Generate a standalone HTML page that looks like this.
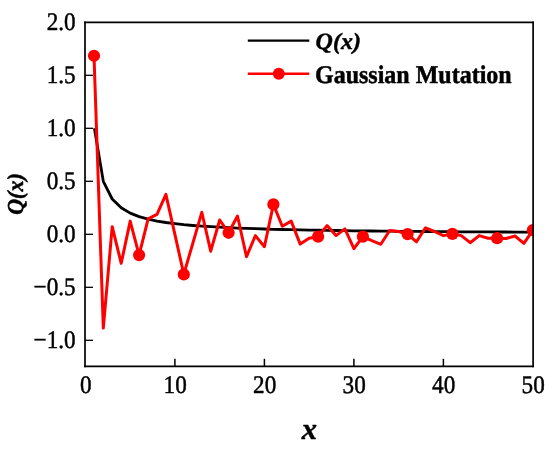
<!DOCTYPE html>
<html><head><meta charset="utf-8"><style>
html,body{margin:0;padding:0;background:#fff;}
body{width:550px;height:450px;overflow:hidden;}
svg{display:block;}
text{font-family:"Liberation Serif","Times New Roman",serif;fill:#000;text-rendering:geometricPrecision;stroke:#000;stroke-width:0.45px;}
</style></head><body>
<svg width="550" height="450" viewBox="0 0 550 450">
<rect width="550" height="450" fill="#fff"/>
<defs><clipPath id="c"><rect x="85" y="22.4" width="448.1" height="344"/></clipPath></defs>
<g stroke="#000" fill="none"><line x1="85" y1="75.3" x2="93" y2="75.3" stroke-width="1.3"/><line x1="85" y1="128.3" x2="93" y2="128.3" stroke-width="1.3"/><line x1="85" y1="181.3" x2="93" y2="181.3" stroke-width="1.3"/><line x1="85" y1="234.3" x2="93" y2="234.3" stroke-width="1.3"/><line x1="85" y1="287.3" x2="93" y2="287.3" stroke-width="1.3"/><line x1="85" y1="340.3" x2="93" y2="340.3" stroke-width="1.3"/><line x1="174.9" y1="366.4" x2="174.9" y2="358.8" stroke-width="1.5"/><line x1="264.4" y1="366.4" x2="264.4" y2="358.8" stroke-width="1.5"/><line x1="353.9" y1="366.4" x2="353.9" y2="358.8" stroke-width="1.5"/><line x1="443.4" y1="366.4" x2="443.4" y2="358.8" stroke-width="1.5"/></g>
<g clip-path="url(#c)">
<polyline points="94.4,128.3 103.3,181.3 112.2,199 121.2,207.8 130.2,213.1 139.1,216.6 148.1,219.2 157,221.1 165.9,222.5 174.9,223.7 183.8,224.7 192.8,225.5 201.8,226.1 210.7,226.7 219.7,227.2 228.6,227.7 237.5,228.1 246.5,228.4 255.4,228.7 264.4,229 273.4,229.3 282.3,229.5 291.2,229.7 300.2,229.9 309.1,230.1 318.1,230.2 327,230.4 336,230.5 344.9,230.6 353.9,230.8 362.9,230.9 371.8,231 380.8,231.1 389.7,231.2 398.6,231.3 407.6,231.4 416.5,231.4 425.5,231.5 434.4,231.6 443.4,231.7 452.4,231.7 461.3,231.8 470.2,231.8 479.2,231.9 488.1,231.9 497.1,232 506,232 515,232.1 523.9,232.1 532.9,232.2" fill="none" stroke="#000" stroke-width="2.8" stroke-linejoin="round"/>
<polyline points="94,55.8 103.3,328.1 112.2,226.7 121.2,263.3 130.2,221.1 139.1,255.1 148.1,218.9 157,214.4 165.9,194.4 174.9,234.3 183.8,274.4 192.8,243.3 201.8,212.3 210.7,251.2 219.7,220 228.6,232.8 237.5,216 246.5,256.7 255.4,235.6 264.4,246.7 273.4,204.4 282.3,226.2 291.2,221.1 300.2,244.1 309.1,238.2 318.1,236.6 327,225.6 336,235.6 344.9,228.9 353.9,248.6 362.9,236.6 371.8,240.7 380.8,244.3 389.7,230.5 398.6,231.5 407.6,234.1 416.5,241.8 425.5,227.8 434.4,231.5 443.4,235.6 452.4,233.9 461.3,235.6 470.2,242.7 479.2,235.6 488.1,238.2 497.1,238.2 506,238.5 515,236 523.9,243.3 532.9,230.1" fill="none" stroke="#f00" stroke-width="3" stroke-linejoin="round"/>
<g fill="#f00"><circle cx="94" cy="55.8" r="6.1"/><circle cx="139.1" cy="255.1" r="6.1"/><circle cx="183.8" cy="274.4" r="6.1"/><circle cx="228.6" cy="232.8" r="6.1"/><circle cx="273.4" cy="204.4" r="6.1"/><circle cx="318.1" cy="236.6" r="6.1"/><circle cx="362.9" cy="236.6" r="6.1"/><circle cx="407.6" cy="234.1" r="6.1"/><circle cx="452.4" cy="233.9" r="6.1"/><circle cx="497.1" cy="238.2" r="6.1"/><circle cx="532.9" cy="230.1" r="6.1"/></g>
</g>
<g stroke="#000" fill="none" stroke-linecap="square">
<line x1="85" y1="22.4" x2="533.1" y2="22.4" stroke-width="1.6"/>
<line x1="85" y1="366.4" x2="533.1" y2="366.4" stroke-width="1.6"/>
<line x1="85" y1="22.4" x2="85" y2="366.4" stroke-width="1.7"/>
<line x1="533.1" y1="22.4" x2="533.1" y2="366.4" stroke-width="1.7"/>
</g>
<g font-size="24" text-anchor="end" style="stroke-width:0.7px"><text transform="translate(75.6,29.9) scale(0.965,1.055)">2.0</text><text transform="translate(75.6,82.9) scale(0.965,1.055)">1.5</text><text transform="translate(75.6,135.9) scale(0.965,1.055)">1.0</text><text transform="translate(75.6,188.9) scale(0.965,1.055)">0.5</text><text transform="translate(75.6,241.9) scale(0.965,1.055)">0.0</text><text transform="translate(75.6,294.9) scale(0.965,1.055)">−0.5</text><text transform="translate(75.6,347.9) scale(0.965,1.055)">−1.0</text></g>
<g font-size="24" text-anchor="middle" style="stroke-width:0.7px"><text transform="translate(85.7,393.4) scale(0.965,1.055)">0</text><text transform="translate(175.2,393.4) scale(0.965,1.055)">10</text><text transform="translate(264.7,393.4) scale(0.965,1.055)">20</text><text transform="translate(354.2,393.4) scale(0.965,1.055)">30</text><text transform="translate(443.7,393.4) scale(0.965,1.055)">40</text><text transform="translate(533.2,393.4) scale(0.965,1.055)">50</text></g>
<line x1="247.8" y1="40.7" x2="309.3" y2="40.7" stroke="#000" stroke-width="2.3"/>
<line x1="247.8" y1="73.8" x2="309.3" y2="73.8" stroke="#f00" stroke-width="2.4"/>
<circle cx="278.8" cy="73.8" r="6" fill="#f00"/>
<text transform="translate(315.6,48.9) scale(1.0,0.97)" font-size="24" font-weight="bold" font-style="italic">Q(x)</text>
<text transform="translate(315.0,82.6) scale(1.0,1.06)" font-size="24" font-weight="bold">Gaussian Mutation</text>
<text transform="translate(23.1,194) rotate(-90) scale(1.0,1.04)" text-anchor="middle" font-size="22" font-weight="bold" font-style="italic">Q(x)</text>
<text x="309.4" y="439.2" text-anchor="middle" font-size="30.5" font-weight="bold" font-style="italic">x</text>
</svg>
</body></html>
